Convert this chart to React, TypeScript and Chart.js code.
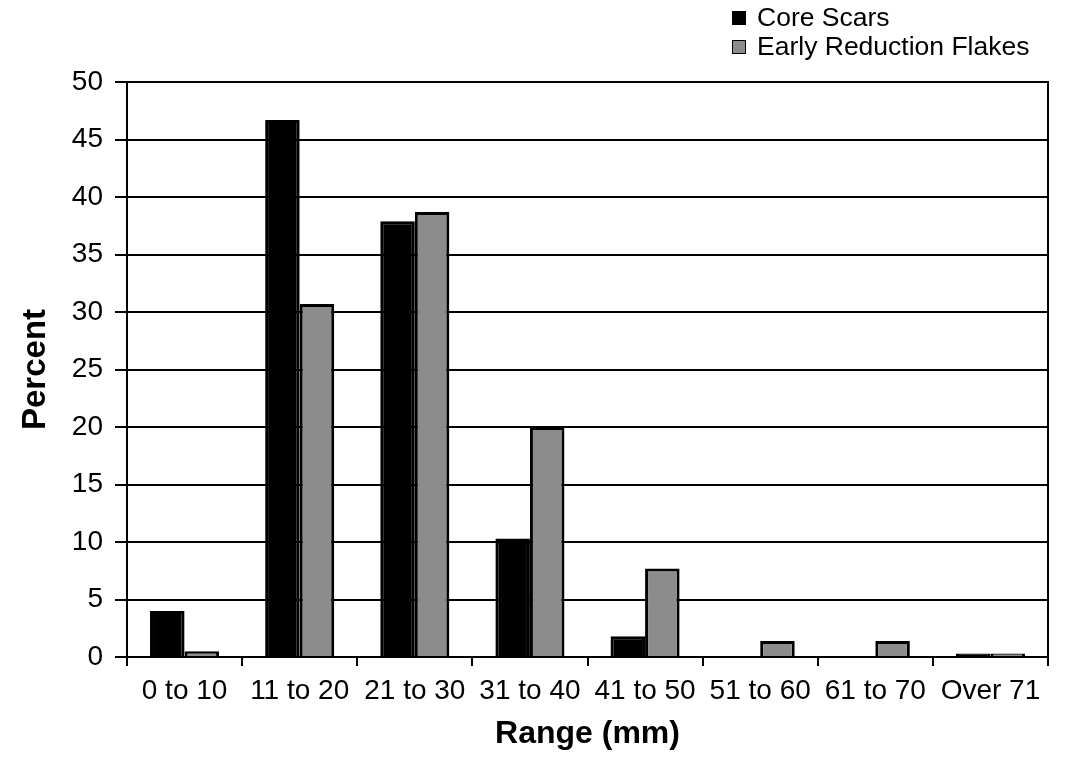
import React, { useEffect, useRef } from "react";
import { Chart, registerables } from "chart.js";

Chart.register(...registerables);

const categories = ["0 to 10", "11 to 20", "21 to 30", "31 to 40", "41 to 50", "51 to 60", "61 to 70", "Over 71"];
const coreScars = [4.0, 46.7, 37.9, 10.3, 1.8, 0, 0, 0.3];
const earlyFlakes = [0.5, 30.7, 38.7, 20.0, 7.7, 1.4, 1.4, 0.3];
const seriesNames = ["Core Scars", "Early Reduction Flakes"];
const seriesColors = ["#000000", "#8c8c8c"];

const FONT = "'Liberation Sans', Arial, sans-serif";

const legendPlugin = {
  id: "cornerLegend",
  afterDraw(chart: any) {
    const ctx = chart.ctx;
    ctx.save();
    ctx.font = `26.5px ${FONT}`;
    ctx.textBaseline = "middle";
    ctx.textAlign = "left";
    chart.data.datasets.forEach((ds: any, i: number) => {
      const cy = 18 + i * 29;
      ctx.fillStyle = ds.backgroundColor;
      ctx.fillRect(732, cy - 7, 14, 14);
      ctx.lineWidth = 1;
      ctx.strokeStyle = "#000";
      ctx.strokeRect(732.5, cy - 6.5, 13, 13);
      ctx.fillStyle = "#000";
      ctx.fillText(ds.label, 757, cy + 1);
    });
    ctx.restore();
  },
};

export default function App() {
  const ref = useRef<HTMLCanvasElement>(null);
  useEffect(() => {
    document.body.style.margin = "0";
    const chart = new Chart(ref.current!, {
      type: "bar",
      data: {
        labels: categories,
        datasets: [
          {
            label: seriesNames[0],
            data: coreScars,
            backgroundColor: seriesColors[0],
            borderColor: "#000",
            borderWidth: 3,
            categoryPercentage: 0.6,
            barPercentage: 1,
          },
          {
            label: seriesNames[1],
            data: earlyFlakes,
            backgroundColor: seriesColors[1],
            borderColor: "#000",
            borderWidth: 3,
            categoryPercentage: 0.6,
            barPercentage: 1,
          },
        ],
      },
      options: {
        responsive: false,
        animation: false,
        devicePixelRatio: 1,
        layout: { padding: { top: 82, left: 0, right: 0, bottom: 0 } },
        plugins: { legend: { display: false }, tooltip: { enabled: false } },
        scales: {
          x: {
            grid: { offset: true, drawOnChartArea: false, drawTicks: true, tickLength: 9, color: "#000", lineWidth: 2 },
            border: { display: true, color: "#000", width: 2 },
            ticks: { color: "#000", font: { family: FONT, size: 28 }, padding: 8, maxRotation: 0, autoSkip: false },
            title: {
              display: true,
              text: "Range (mm)",
              color: "#000",
              font: { family: FONT, size: 32, weight: "bold" },
              padding: { top: 0, bottom: 10 },
            },
            afterFit(scale: any) {
              scale.height = 106;
            },
          },
          y: {
            min: 0,
            max: 50,
            ticks: { stepSize: 5, color: "#000", font: { family: FONT, size: 28 }, padding: 12 },
            grid: { color: "#000", lineWidth: 2, tickLength: 12 },
            border: { display: true, color: "#000", width: 2 },
            title: {
              display: true,
              text: "Percent",
              color: "#000",
              font: { family: FONT, size: 33, weight: "bold" },
              padding: { top: 16, bottom: 0 },
            },
            afterFit(scale: any) {
              scale.width = 127;
            },
          },
          y2: {
            position: "right",
            min: 0,
            max: 50,
            ticks: { display: false },
            grid: { drawOnChartArea: false, drawTicks: false },
            border: { display: true, color: "#000", width: 2 },
            afterFit(scale: any) {
              scale.width = 23;
            },
          },
        },
      } as any,
      plugins: [legendPlugin],
    });
    return () => chart.destroy();
  }, []);
  return (
    <div style={{ width: 1071, height: 763, background: "#fff" }}>
      <canvas ref={ref} width={1071} height={763} />
    </div>
  );
}
